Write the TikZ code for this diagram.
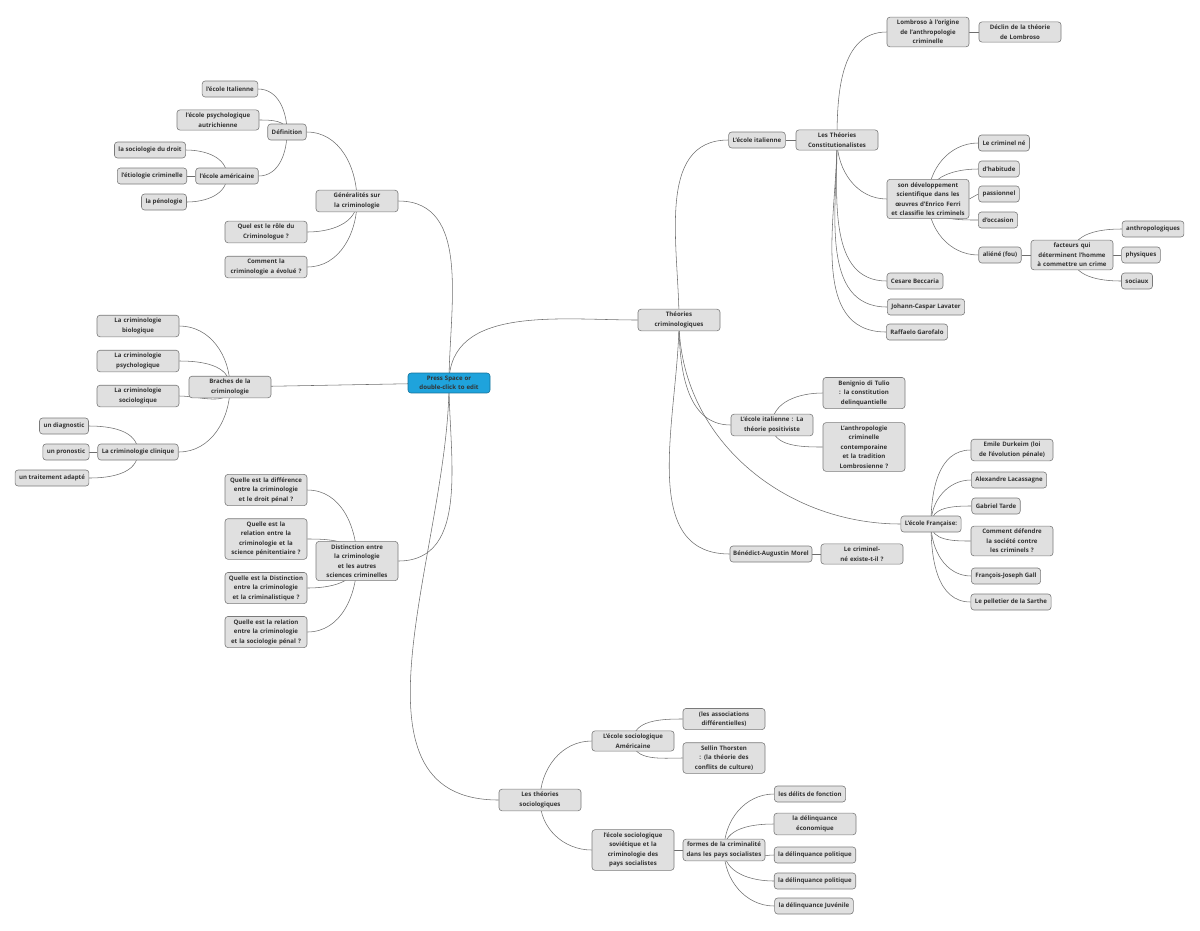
\documentclass[tikz,border=0pt]{standalone}
\usepackage{fontspec}
\setmainfont{Open Sans}
\pgfdeclarelayer{background}
\pgfsetlayers{background,main}
\definecolor{nf}{HTML}{E0E0E0}
\definecolor{nd}{HTML}{7A7A7A}
\definecolor{tx}{HTML}{333333}
\definecolor{blu}{HTML}{1FA3DC}
\definecolor{ln}{HTML}{6E6E6E}
\newcommand\nfont{\fontsize{6.1}{9.5}\selectfont\bfseries\hyphenpenalty=10000\relax}
\tikzset{
 nd/.style={draw=nd,fill=nf,rounded corners=3pt,line width=0.6pt,font=\nfont,text=tx,align=center,minimum height=16pt,inner xsep=4pt,inner ysep=3pt},
 w/.style={nd,text width=76pt,inner xsep=3pt},
 ln/.style={draw=ln,line width=0.55pt}
}
\newcommand\U[2]{\draw[ln] (#1.center) to[out=90,in=180] (#2.west);}
\newcommand\D[2]{\draw[ln] (#1.center) to[out=-90,in=180] (#2.west);}
\newcommand\UL[2]{\draw[ln] (#1.center) to[out=90,in=0] (#2.east);}
\newcommand\DL[2]{\draw[ln] (#1.center) to[out=-90,in=0] (#2.east);}
\newcommand\SR[2]{\draw[ln] (#1.east) -- (#2.west);}
\newcommand\SL[2]{\draw[ln] (#1.west) -- (#2.east);}
\begin{document}
\begin{tikzpicture}[x=1pt,y=1pt]
\useasboundingbox (0,0) rectangle (1200,-930);
\node[w,fill=blu,draw=blu!70!black] (c) at (449,-383) {Press Space or double-click to edit};
% right
\node[w] (th) at (679,-320) {Théories criminologiques};
\node[nd] (ei) at (757,-140) {L'école italienne};
\node[w] (tc) at (837,-140) {Les Théories Constitutionalistes};
\node[w] (lo) at (928,-32) {Lombroso à l'origine de l'anthropologie criminelle};
\node[w] (de) at (1020,-32) {Déclin de la théorie de Lombroso};
\node[w] (sd) at (928,-199) {son développement scientifique dans les œuvres d'Enrico Ferri et classifie les criminels};
\node[nd] (cn) at (1004,-143) {Le criminel né};
\node[nd] (dh) at (999,-169) {d'habitude};
\node[nd] (pa) at (999,-194) {passionnel};
\node[nd] (oc) at (998,-220) {d'occasion};
\node[nd] (al) at (1000,-255) {aliéné (fou)};
\node[w] (fa) at (1072,-255) {facteurs qui déterminent l'homme à commettre un crime};
\node[nd] (an) at (1153,-229) {anthropologiques};
\node[nd] (ph) at (1141,-255) {physiques};
\node[nd] (so) at (1137,-281) {sociaux};
\node[nd] (cb) at (915,-281) {Cesare Beccaria};
\node[nd] (jl) at (926,-307) {Johann-Caspar Lavater};
\node[nd] (rg) at (917,-332) {Raffaelo Garofalo};
\node[w] (po) at (772,-425) {L'école italienne : La théorie positiviste};
\node[w] (bt) at (864,-393) {Benignio di Tulio : la constitution delinquantielle};
\node[w] (ac) at (864,-447) {L'anthropologie criminelle contemporaine et la tradition Lombrosienne ?};
\node[nd] (fr) at (931,-524) {L'école Française:};
\node[w] (ed) at (1012,-450) {Emile Durkeim (loi de l'évolution pénale)};
\node[nd] (la) at (1009,-480) {Alexandre Lacassagne};
\node[nd] (gt) at (996,-506) {Gabriel Tarde};
\node[w] (cd) at (1012,-541) {Comment défendre la société contre les criminels ?};
\node[nd] (fg) at (1006,-576) {François-Joseph Gall};
\node[nd] (ps) at (1011,-602) {Le pelletier de la Sarthe};
\node[w] (mo) at (771,-554) {Bénédict-Augustin Morel};
\node[w] (ce) at (862,-554) {Le criminel-né existe-t-il ?};
% bottom
\node[w] (ts) at (540,-800) {Les théories sociologiques};
\node[w] (am) at (633,-741) {L'école sociologique Américaine};
\node[w] (ad) at (724,-719) {(les associations différentielles)};
\node[w] (st) at (724,-758) {Sellin Thorsten : (la théorie des conflits de culture)};
\node[w] (sv) at (633,-850) {l'école sociologique soviétique et la criminologie des pays socialistes};
\node[w] (fo) at (724,-850) {formes de la criminalité dans les pays socialistes};
\node[nd] (df) at (810,-794) {les délits de fonction};
\node[w] (de2) at (815,-824) {la délinquance économique};
\node[nd] (dp1) at (815,-855) {la délinquance politique};
\node[nd] (dp2) at (815,-881) {la délinquance politique};
\node[nd] (dj) at (814,-906) {la délinquance Juvénile};
% left
\node[w] (ge) at (357,-201) {Généralités sur la criminologie};
\node[nd] (dfn) at (287,-132) {Définition};
\node[nd] (it) at (230,-89) {l'école Italienne};
\node[w] (ps2) at (218,-120) {l'école psychologique autrichienne};
\node[nd] (ea) at (227,-176) {l'école américaine};
\node[nd] (sdr) at (150,-150) {la sociologie du droit};
\node[nd] (ec) at (152,-176) {l'étiologie criminelle};
\node[nd] (pe) at (164,-202) {la pénologie};
\node[w] (qr) at (266,-232) {Quel est le rôle du Criminologue ?};
\node[w] (cm) at (266,-267) {Comment la criminologie a évolué ?};
\node[w] (br) at (230,-387) {Braches de la criminologie};
\node[w] (cbi) at (138,-326) {La criminologie biologique};
\node[w] (cps) at (138,-361) {La criminologie psychologique};
\node[w] (cso) at (138,-396) {La criminologie sociologique};
\node[nd] (ccl) at (138,-452) {La criminologie clinique};
\node[nd] (ud) at (64,-426) {un diagnostic};
\node[nd] (up) at (66,-452) {un pronostic};
\node[nd] (ut) at (52,-478) {un traitement adapté};
\node[w] (di) at (357,-561) {Distinction entre la criminologie et les autres sciences criminelles};
\node[w] (q1) at (266,-490) {Quelle est la différence entre la criminologie et le droit pénal ?};
\node[w] (q2) at (266,-539) {Quelle est la relation entre la criminologie et la science pénitentiaire ?};
\node[w] (q3) at (266,-588) {Quelle est la Distinction entre la criminologie et la criminalistique ?};
\node[w] (q4) at (266,-632) {Quelle est la relation entre la criminologie et la sociologie pénal ?};
\begin{pgfonlayer}{background}
\U{c}{th} \D{c}{ts} \UL{c}{ge} \DL{c}{di}
\draw[ln] (c.center) -- (br.center);
\U{th}{ei} \D{th}{po} \D{th}{fr} \D{th}{mo}
\SR{ei}{tc}
\U{tc}{lo} \D{tc}{sd} \D{tc}{cb} \D{tc}{jl} \D{tc}{rg}
\SR{lo}{de}
\U{sd}{cn} \U{sd}{dh} \SR{sd}{pa} \D{sd}{oc} \D{sd}{al}
\SR{al}{fa}
\U{fa}{an} \SR{fa}{ph} \D{fa}{so}
\U{po}{bt} \D{po}{ac}
\U{fr}{ed} \U{fr}{la} \U{fr}{gt} \D{fr}{cd} \D{fr}{fg} \D{fr}{ps}
\SR{mo}{ce}
\U{ts}{am} \D{ts}{sv}
\U{am}{ad} \D{am}{st}
\SR{sv}{fo}
\U{fo}{df} \U{fo}{de2} \D{fo}{dp1} \D{fo}{dp2} \D{fo}{dj}
\UL{ge}{dfn} \DL{ge}{qr} \DL{ge}{cm}
\UL{dfn}{it} \UL{dfn}{ps2} \DL{dfn}{ea}
\UL{ea}{sdr} \SL{ea}{ec} \DL{ea}{pe}
\UL{br}{cbi} \UL{br}{cps} \DL{br}{cso} \DL{br}{ccl}
\UL{ccl}{ud} \SL{ccl}{up} \DL{ccl}{ut}
\UL{di}{q1} \UL{di}{q2} \DL{di}{q3} \DL{di}{q4}
\end{pgfonlayer}
\end{tikzpicture}
\end{document}
